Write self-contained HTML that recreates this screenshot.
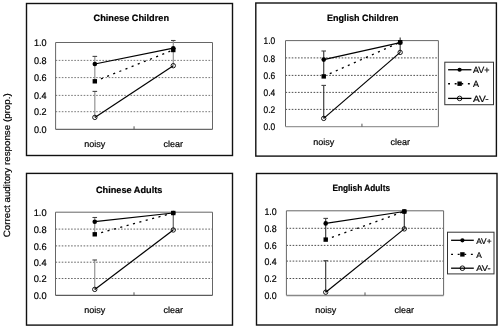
<!DOCTYPE html>
<html><head><meta charset="utf-8"><style>
html,body{margin:0;padding:0;background:#fff;}
svg{display:block;}
text{font-family:'Liberation Sans', Arial, sans-serif;fill:#000;text-rendering:geometricPrecision;stroke:#000;stroke-width:0.2px;}
</style></head><body>
<svg width="500" height="328" viewBox="0 0 500 328">
<rect width="500" height="328" fill="#fff"/>
<rect x="26.5" y="3.5" width="206" height="152" fill="none" stroke="#111" stroke-width="1.4"/>
<text x="131.3" y="21.4" text-anchor="middle" font-weight="bold" font-size="9.2" textLength="75.4" lengthAdjust="spacingAndGlyphs">Chinese Children</text>
<line x1="55.6" y1="111.7" x2="212.5" y2="111.7" stroke="#6a6a6a" stroke-width="0.9" stroke-dasharray="1.6 1.52"/>
<line x1="55.6" y1="95.4" x2="212.5" y2="95.4" stroke="#6a6a6a" stroke-width="0.9" stroke-dasharray="1.6 1.52"/>
<line x1="55.6" y1="77.6" x2="212.5" y2="77.6" stroke="#6a6a6a" stroke-width="0.9" stroke-dasharray="1.6 1.52"/>
<line x1="55.6" y1="60.4" x2="212.5" y2="60.4" stroke="#6a6a6a" stroke-width="0.9" stroke-dasharray="1.6 1.52"/>
<path d="M55.6 129.3V42.5H212.5V129.3" fill="none" stroke="#666" stroke-width="1"/>
<line x1="55.6" y1="129.3" x2="212.5" y2="129.3" stroke="#444" stroke-width="1.0"/>
<line x1="134.05" y1="129.3" x2="134.05" y2="126.3" stroke="#555" stroke-width="1"/>
<text x="46.5" y="133" text-anchor="end" font-size="9.6" textLength="12.61" lengthAdjust="spacingAndGlyphs">0.0</text>
<text x="46.5" y="115.4" text-anchor="end" font-size="9.6" textLength="12.61" lengthAdjust="spacingAndGlyphs">0.2</text>
<text x="46.5" y="99.1" text-anchor="end" font-size="9.6" textLength="12.61" lengthAdjust="spacingAndGlyphs">0.4</text>
<text x="46.5" y="81.3" text-anchor="end" font-size="9.6" textLength="12.61" lengthAdjust="spacingAndGlyphs">0.6</text>
<text x="46.5" y="64.1" text-anchor="end" font-size="9.6" textLength="12.61" lengthAdjust="spacingAndGlyphs">0.8</text>
<text x="46.5" y="46.2" text-anchor="end" font-size="9.6" textLength="12.61" lengthAdjust="spacingAndGlyphs">1.0</text>
<text x="94.83" y="146.8" text-anchor="middle" font-size="9">noisy</text>
<text x="173.28" y="146.8" text-anchor="middle" font-size="9">clear</text>
<line x1="94.83" y1="56.4" x2="94.83" y2="81" stroke="#8a8a8a" stroke-width="1.1"/>
<line x1="92.53" y1="56.4" x2="97.12" y2="56.4" stroke="#444" stroke-width="1.1"/>
<line x1="94.83" y1="91.4" x2="94.83" y2="116.9" stroke="#8a8a8a" stroke-width="1.1"/>
<line x1="92.53" y1="91.4" x2="97.12" y2="91.4" stroke="#444" stroke-width="1.1"/>
<line x1="173.28" y1="40.5" x2="173.28" y2="65.5" stroke="#8a8a8a" stroke-width="1.1"/>
<line x1="170.97" y1="40.5" x2="175.58" y2="40.5" stroke="#444" stroke-width="1.1"/>
<line x1="94.83" y1="81.3" x2="173.28" y2="50" stroke="#000" stroke-width="1.3" stroke-dasharray="2.1 4.5"/>
<line x1="94.83" y1="64" x2="173.28" y2="48.2" stroke="#000" stroke-width="1.2"/>
<line x1="94.83" y1="117.4" x2="173.28" y2="65.7" stroke="#000" stroke-width="1.2"/>
<rect x="92.62" y="79.1" width="4.4" height="4.4" fill="#000"/>
<rect x="171.08" y="47.8" width="4.4" height="4.4" fill="#000"/>
<circle cx="94.83" cy="64" r="2.3" fill="#000"/>
<circle cx="173.28" cy="48.2" r="2.3" fill="#000"/>
<circle cx="94.83" cy="117.4" r="2.2" fill="none" stroke="#000" stroke-width="0.9"/>
<circle cx="173.28" cy="65.7" r="2.2" fill="none" stroke="#000" stroke-width="0.9"/>
<rect x="255.8" y="3" width="240.6" height="153.1" fill="none" stroke="#111" stroke-width="1.4"/>
<text x="362.7" y="21" text-anchor="middle" font-weight="bold" font-size="9.2" textLength="71.4" lengthAdjust="spacingAndGlyphs">English Children</text>
<line x1="285.5" y1="109.4" x2="438.4" y2="109.4" stroke="#3a3a3a" stroke-width="0.9" stroke-dasharray="1.6 1.52"/>
<line x1="285.5" y1="92.4" x2="438.4" y2="92.4" stroke="#3a3a3a" stroke-width="0.9" stroke-dasharray="1.6 1.52"/>
<line x1="285.5" y1="75.4" x2="438.4" y2="75.4" stroke="#3a3a3a" stroke-width="0.9" stroke-dasharray="1.6 1.52"/>
<line x1="285.5" y1="57.9" x2="438.4" y2="57.9" stroke="#3a3a3a" stroke-width="0.9" stroke-dasharray="1.6 1.52"/>
<path d="M285.5 126.7V40.6H438.4V126.7" fill="none" stroke="#666" stroke-width="1"/>
<line x1="285.5" y1="126.7" x2="438.4" y2="126.7" stroke="#999" stroke-width="1.3"/>
<line x1="361.95" y1="126.7" x2="361.95" y2="123.7" stroke="#555" stroke-width="1"/>
<text x="275.1" y="130.4" text-anchor="end" font-size="9.6" textLength="11.61" lengthAdjust="spacingAndGlyphs">0.0</text>
<text x="275.1" y="113.1" text-anchor="end" font-size="9.6" textLength="11.61" lengthAdjust="spacingAndGlyphs">0.2</text>
<text x="275.1" y="96.1" text-anchor="end" font-size="9.6" textLength="11.61" lengthAdjust="spacingAndGlyphs">0.4</text>
<text x="275.1" y="79.1" text-anchor="end" font-size="9.6" textLength="11.61" lengthAdjust="spacingAndGlyphs">0.6</text>
<text x="275.1" y="61.6" text-anchor="end" font-size="9.6" textLength="11.61" lengthAdjust="spacingAndGlyphs">0.8</text>
<text x="275.1" y="44.3" text-anchor="end" font-size="9.6" textLength="11.61" lengthAdjust="spacingAndGlyphs">1.0</text>
<text x="323.73" y="144.5" text-anchor="middle" font-size="9">noisy</text>
<text x="400.17" y="144.5" text-anchor="middle" font-size="9">clear</text>
<line x1="323.73" y1="51" x2="323.73" y2="76.5" stroke="#303030" stroke-width="1.1"/>
<line x1="321.43" y1="51" x2="326.03" y2="51" stroke="#444" stroke-width="1.1"/>
<line x1="323.73" y1="85.4" x2="323.73" y2="118.4" stroke="#303030" stroke-width="1.1"/>
<line x1="321.43" y1="85.4" x2="326.03" y2="85.4" stroke="#444" stroke-width="1.1"/>
<line x1="400.17" y1="37.5" x2="400.17" y2="52.4" stroke="#303030" stroke-width="1.1"/>
<line x1="323.73" y1="76.4" x2="400.17" y2="42.2" stroke="#000" stroke-width="1.3" stroke-dasharray="2.1 4.5"/>
<line x1="323.73" y1="59.6" x2="400.17" y2="42.6" stroke="#000" stroke-width="1.2"/>
<line x1="323.73" y1="118.4" x2="400.17" y2="52.4" stroke="#000" stroke-width="1.2"/>
<rect x="321.53" y="74.2" width="4.4" height="4.4" fill="#000"/>
<rect x="397.97" y="40" width="4.4" height="4.4" fill="#000"/>
<circle cx="323.73" cy="59.6" r="2.3" fill="#000"/>
<circle cx="400.17" cy="42.6" r="2.3" fill="#000"/>
<circle cx="323.73" cy="118.4" r="2.2" fill="none" stroke="#000" stroke-width="0.9"/>
<circle cx="400.17" cy="52.4" r="2.2" fill="none" stroke="#000" stroke-width="0.9"/>
<rect x="444.8" y="62.2" width="48.7" height="42.5" fill="#fff" stroke="#333" stroke-width="1"/>
<line x1="448.1" y1="69.75" x2="471.4" y2="69.75" stroke="#000" stroke-width="1.3"/>
<circle cx="459.6" cy="69.75" r="2.1" fill="#000"/>
<text x="473" y="73.05" font-size="9" textLength="16.6" lengthAdjust="spacingAndGlyphs">AV+</text>
<line x1="448.1" y1="83.7" x2="471.4" y2="83.7" stroke="#000" stroke-width="1.4" stroke-dasharray="1.9 4.7"/>
<rect x="457.4" y="81.5" width="4.4" height="4.4" fill="#000"/>
<text x="473" y="87" font-size="9">A</text>
<line x1="448.1" y1="98.4" x2="471.4" y2="98.4" stroke="#000" stroke-width="1.3"/>
<circle cx="459.6" cy="98.4" r="2.3" fill="none" stroke="#000" stroke-width="0.9"/>
<text x="473" y="101.7" font-size="9" textLength="15.6" lengthAdjust="spacingAndGlyphs">AV-</text>
<rect x="26.5" y="173.4" width="206" height="151.7" fill="none" stroke="#111" stroke-width="1.4"/>
<text x="129.2" y="193" text-anchor="middle" font-weight="bold" font-size="9.2" textLength="66.4" lengthAdjust="spacingAndGlyphs">Chinese Adults</text>
<line x1="55.5" y1="278.5" x2="212.5" y2="278.5" stroke="#555" stroke-width="0.9" stroke-dasharray="1.6 1.52"/>
<line x1="55.5" y1="262.2" x2="212.5" y2="262.2" stroke="#555" stroke-width="0.9" stroke-dasharray="1.6 1.52"/>
<line x1="55.5" y1="245.9" x2="212.5" y2="245.9" stroke="#555" stroke-width="0.9" stroke-dasharray="1.6 1.52"/>
<line x1="55.5" y1="229.1" x2="212.5" y2="229.1" stroke="#555" stroke-width="0.9" stroke-dasharray="1.6 1.52"/>
<path d="M55.5 295.3V212.2H212.5V295.3" fill="none" stroke="#666" stroke-width="1"/>
<line x1="55.5" y1="295.3" x2="212.5" y2="295.3" stroke="#333" stroke-width="1.0"/>
<line x1="134" y1="295.3" x2="134" y2="292.3" stroke="#555" stroke-width="1"/>
<text x="46.6" y="299" text-anchor="end" font-size="9.6" textLength="12.91" lengthAdjust="spacingAndGlyphs">0.0</text>
<text x="46.6" y="282.2" text-anchor="end" font-size="9.6" textLength="12.91" lengthAdjust="spacingAndGlyphs">0.2</text>
<text x="46.6" y="265.9" text-anchor="end" font-size="9.6" textLength="12.91" lengthAdjust="spacingAndGlyphs">0.4</text>
<text x="46.6" y="249.6" text-anchor="end" font-size="9.6" textLength="12.91" lengthAdjust="spacingAndGlyphs">0.6</text>
<text x="46.6" y="232.8" text-anchor="end" font-size="9.6" textLength="12.91" lengthAdjust="spacingAndGlyphs">0.8</text>
<text x="46.6" y="215.9" text-anchor="end" font-size="9.6" textLength="12.91" lengthAdjust="spacingAndGlyphs">1.0</text>
<text x="94.75" y="312.6" text-anchor="middle" font-size="9">noisy</text>
<text x="173.25" y="312.6" text-anchor="middle" font-size="9">clear</text>
<line x1="94.75" y1="217.5" x2="94.75" y2="234.3" stroke="#8a8a8a" stroke-width="1.1"/>
<line x1="92.45" y1="217.5" x2="97.05" y2="217.5" stroke="#444" stroke-width="1.1"/>
<line x1="94.75" y1="260" x2="94.75" y2="289.4" stroke="#8a8a8a" stroke-width="1.1"/>
<line x1="92.45" y1="260" x2="97.05" y2="260" stroke="#444" stroke-width="1.1"/>
<line x1="173.25" y1="213" x2="173.25" y2="230" stroke="#555" stroke-width="1.1"/>
<line x1="94.75" y1="234.3" x2="173.25" y2="213" stroke="#000" stroke-width="1.3" stroke-dasharray="2.1 4.5"/>
<line x1="94.75" y1="221.7" x2="173.25" y2="213" stroke="#000" stroke-width="1.2"/>
<line x1="94.75" y1="289.4" x2="173.25" y2="230" stroke="#000" stroke-width="1.2"/>
<rect x="92.55" y="232.1" width="4.4" height="4.4" fill="#000"/>
<rect x="171.05" y="210.8" width="4.4" height="4.4" fill="#000"/>
<circle cx="94.75" cy="221.7" r="2.3" fill="#000"/>
<circle cx="173.25" cy="213" r="2.3" fill="#000"/>
<circle cx="94.75" cy="289.4" r="2.2" fill="none" stroke="#000" stroke-width="0.9"/>
<circle cx="173.25" cy="230" r="2.2" fill="none" stroke="#000" stroke-width="0.9"/>
<rect x="256.5" y="173.5" width="240.5" height="151.5" fill="none" stroke="#111" stroke-width="1.4"/>
<text x="361.2" y="191" text-anchor="middle" font-weight="bold" font-size="9.2" textLength="57.6" lengthAdjust="spacingAndGlyphs">English Adults</text>
<line x1="286.4" y1="278.5" x2="443.6" y2="278.5" stroke="#3a3a3a" stroke-width="0.9" stroke-dasharray="1.6 1.52"/>
<line x1="286.4" y1="261.1" x2="443.6" y2="261.1" stroke="#3a3a3a" stroke-width="0.9" stroke-dasharray="1.6 1.52"/>
<line x1="286.4" y1="245.4" x2="443.6" y2="245.4" stroke="#3a3a3a" stroke-width="0.9" stroke-dasharray="1.6 1.52"/>
<line x1="286.4" y1="228.3" x2="443.6" y2="228.3" stroke="#3a3a3a" stroke-width="0.9" stroke-dasharray="1.6 1.52"/>
<path d="M286.4 295.4V210.8H443.6V295.4" fill="none" stroke="#666" stroke-width="1"/>
<line x1="286.4" y1="295.4" x2="443.6" y2="295.4" stroke="#888" stroke-width="1.5"/>
<line x1="365" y1="295.4" x2="365" y2="292.4" stroke="#555" stroke-width="1"/>
<text x="276.7" y="299.1" text-anchor="end" font-size="9.6" textLength="12.31" lengthAdjust="spacingAndGlyphs">0.0</text>
<text x="276.7" y="282.2" text-anchor="end" font-size="9.6" textLength="12.31" lengthAdjust="spacingAndGlyphs">0.2</text>
<text x="276.7" y="264.8" text-anchor="end" font-size="9.6" textLength="12.31" lengthAdjust="spacingAndGlyphs">0.4</text>
<text x="276.7" y="249.1" text-anchor="end" font-size="9.6" textLength="12.31" lengthAdjust="spacingAndGlyphs">0.6</text>
<text x="276.7" y="232" text-anchor="end" font-size="9.6" textLength="12.31" lengthAdjust="spacingAndGlyphs">0.8</text>
<text x="276.7" y="214.5" text-anchor="end" font-size="9.6" textLength="12.31" lengthAdjust="spacingAndGlyphs">1.0</text>
<text x="325.7" y="313.3" text-anchor="middle" font-size="9">noisy</text>
<text x="404.3" y="313.3" text-anchor="middle" font-size="9">clear</text>
<line x1="325.7" y1="218.4" x2="325.7" y2="239.6" stroke="#303030" stroke-width="1.1"/>
<line x1="323.4" y1="218.4" x2="328" y2="218.4" stroke="#444" stroke-width="1.1"/>
<line x1="325.7" y1="260.7" x2="325.7" y2="292.2" stroke="#303030" stroke-width="1.1"/>
<line x1="323.4" y1="260.7" x2="328" y2="260.7" stroke="#444" stroke-width="1.1"/>
<line x1="404.3" y1="211.5" x2="404.3" y2="228.9" stroke="#303030" stroke-width="1.1"/>
<line x1="325.7" y1="239.6" x2="404.3" y2="211.5" stroke="#000" stroke-width="1.3" stroke-dasharray="2.1 4.5"/>
<line x1="325.7" y1="223.4" x2="404.3" y2="211.5" stroke="#000" stroke-width="1.2"/>
<line x1="325.7" y1="292.2" x2="404.3" y2="228.9" stroke="#000" stroke-width="1.2"/>
<rect x="323.5" y="237.4" width="4.4" height="4.4" fill="#000"/>
<rect x="402.1" y="209.3" width="4.4" height="4.4" fill="#000"/>
<circle cx="325.7" cy="223.4" r="2.3" fill="#000"/>
<circle cx="404.3" cy="211.5" r="2.3" fill="#000"/>
<circle cx="325.7" cy="292.2" r="2.2" fill="none" stroke="#000" stroke-width="0.9"/>
<circle cx="404.3" cy="228.9" r="2.2" fill="none" stroke="#000" stroke-width="0.9"/>
<rect x="447.5" y="232.2" width="46.5" height="41.7" fill="#fff" stroke="#333" stroke-width="1"/>
<line x1="451.1" y1="240.3" x2="473.8" y2="240.3" stroke="#000" stroke-width="1.3"/>
<circle cx="462.4" cy="240.3" r="2.1" fill="#000"/>
<text x="476.2" y="243.5" font-size="8.4" textLength="15.3" lengthAdjust="spacingAndGlyphs">AV+</text>
<line x1="451.1" y1="254.4" x2="473.8" y2="254.4" stroke="#000" stroke-width="1.4" stroke-dasharray="1.9 4.7"/>
<rect x="460.2" y="252.2" width="4.4" height="4.4" fill="#000"/>
<text x="476.2" y="257.6" font-size="8.4">A</text>
<line x1="451.1" y1="268.2" x2="473.8" y2="268.2" stroke="#000" stroke-width="1.3"/>
<circle cx="462.4" cy="268.2" r="2.3" fill="none" stroke="#000" stroke-width="0.9"/>
<text x="476.2" y="271.4" font-size="8.4" textLength="14.38" lengthAdjust="spacingAndGlyphs">AV-</text>
<text x="0" y="0" transform="translate(10.2,165.3) rotate(-90)" text-anchor="middle" font-size="9.2" textLength="144" lengthAdjust="spacingAndGlyphs">Correct auditory response (prop.)</text>
</svg>
</body></html>
